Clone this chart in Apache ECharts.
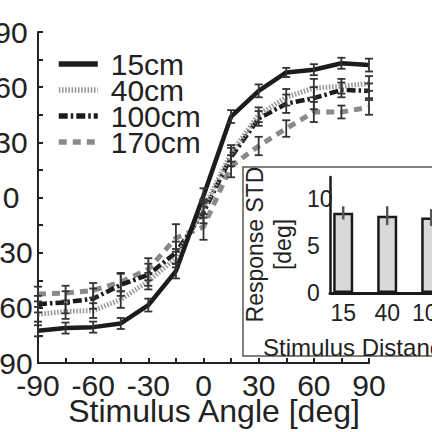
<!DOCTYPE html>
<html>
<head>
<meta charset="utf-8">
<script src="https://cdn.jsdelivr.net/npm/echarts@6/dist/echarts.min.js"></script>
<style>
html,body{margin:0;padding:0;background:#fff;}
#chart{width:432px;height:432px;}
</style>
</head>
<body>
<div id="chart"></div>
<script>
// ---- Main chart data ----
const angles = [-90, -75, -60, -45, -30, -15, 0, 15, 30, 45, 60, 75, 90];
const seriesNames = ['15cm', '40cm', '100cm', '170cm'];
const resp15 = [-72.5, -71, -70.5, -68.5, -58.5, -40, 1, 44, 58, 68, 69.5, 73, 72];
const resp40 = [-63.5, -62, -61.5, -55.5, -45.5, -33, -6, 24, 45, 54.5, 59.5, 60.5, 62];
const resp100 = [-58, -57, -55, -47.5, -42, -30, -8, 22, 43, 51, 54, 58.5, 58];
const resp170 = [-52.5, -52, -50.5, -46, -39, -22, -16, 17, 28, 37.5, 46.5, 46.5, 49];
const err15 = [3, 3, 3, 3, 3.5, 4, 4, 3.5, 3.5, 2.5, 3, 3, 3.5];
const err40 = [4, 4, 4, 4.5, 4.5, 5, 5, 4.5, 4, 4.5, 5, 4, 4];
const err100 = [4.5, 6, 5.5, 6, 6, 6, 6, 5, 4, 5, 6, 4, 4];
const err170 = [4, 4, 4, 5, 6, 7.5, 7, 6, 5, 4.5, 5.5, 3.5, 4];
const xTickLabels = [-90, -60, -30, 0, 30, 60, 90];
const yTickLabels = [90, 60, 30, 0, -30, -60, -90];

// ---- Inset data ----
const distCats = ['15', '40', '100', '170'];
const stdVals = [8.5, 8.2, 8.0, 8.0];
const stdErr = [0.7, 1.0, 0.9, 0.9];
const insetYTicks = [0, 5, 10];

const FONT = "'Liberation Sans', Arial, Helvetica, sans-serif";
const TXT = '#222';

function pairs(ys) { return angles.map((a, i) => [a, ys[i]]); }

function errSeries(ys, es) {
  return {
    type: 'custom', xAxisIndex: 0, yAxisIndex: 0, z: 3, silent: true,
    encode: { x: 0, y: [1, 2] },
    data: angles.map((a, i) => [a, ys[i] - es[i], ys[i] + es[i]]),
    renderItem: function (params, api) {
      const lo = api.coord([api.value(0), api.value(1)]);
      const hi = api.coord([api.value(0), api.value(2)]);
      const w = 4;
      const st = { stroke: '#333', lineWidth: 1.8 };
      return { type: 'group', children: [
        { type: 'line', shape: { x1: lo[0], y1: lo[1], x2: hi[0], y2: hi[1] }, style: st },
        { type: 'line', shape: { x1: lo[0] - w, y1: lo[1], x2: lo[0] + w, y2: lo[1] }, style: st },
        { type: 'line', shape: { x1: hi[0] - w, y1: hi[1], x2: hi[0] + w, y2: hi[1] }, style: st }
      ]};
    }
  };
}

const lineStyles = [
  { color: '#1c1c1c', width: 4.5, type: 'solid' },
  { color: '#9a9a9a', width: 5, type: [1.6, 1.6] },
  { color: '#1c1c1c', width: 4.5, type: [9, 3, 2.5, 3] },
  { color: '#8a8a8a', width: 5, type: [8, 6] }
];
const dataSets = [resp15, resp40, resp100, resp170];
const errSets = [err15, err40, err100, err170];

const series = [];
dataSets.forEach((d, k) => {
  series.push({
    name: seriesNames[k], type: 'line', xAxisIndex: 0, yAxisIndex: 0,
    data: pairs(d), symbol: 'none', z: 2 + (3 - k) * 0.1,
    lineStyle: lineStyles[k], itemStyle: { color: lineStyles[k].color }
  });
});
errSets.forEach((e, k) => series.push(errSeries(dataSets[k], e)));

series.push({
  type: 'bar', xAxisIndex: 1, yAxisIndex: 1, z: 10, barWidth: 20,
  data: stdVals.map((v, i) => [i + 1, v]),
  itemStyle: { color: '#d9d9d9', borderColor: '#1a1a1a', borderWidth: 2.5 }
});
series.push({
  type: 'custom', xAxisIndex: 1, yAxisIndex: 1, z: 11, silent: true,
  encode: { x: 0, y: [1, 2] },
  data: stdVals.map((v, i) => [i + 1, v - stdErr[i], v + stdErr[i]]),
  renderItem: function (params, api) {
    const lo = api.coord([api.value(0), api.value(1)]);
    const hi = api.coord([api.value(0), api.value(2)]);
    return { type: 'line', shape: { x1: lo[0], y1: lo[1], x2: hi[0], y2: hi[1] },
      style: { stroke: '#555', lineWidth: 2.5 } };
  }
});

const legendData = seriesNames.map((n, k) => ({
  name: n,
  itemStyle: { opacity: 0 },
  lineStyle: { color: lineStyles[k].color, width: 5.5, type: lineStyles[k].type, opacity: 1 }
}));

const chart = echarts.init(document.getElementById('chart'), null, { renderer: 'svg' });
chart.setOption({
  animation: false,
  backgroundColor: '#fff',
  textStyle: { fontFamily: FONT },
  legend: {
    data: legendData, orient: 'vertical', left: 56, top: 49, padding: 0,
    itemWidth: 39, itemHeight: 14, itemGap: -4,
    textStyle: { fontFamily: FONT, fontSize: 30, color: TXT, padding: [0, 0, 0, 8] }
  },
  grid: [
    { left: 38, top: 32, width: 331, height: 331, outerBoundsMode: 'none', containLabel: false },
    { left: 330, top: 177, width: 102, height: 116, outerBoundsMode: 'none', containLabel: false }
  ],
  xAxis: [
    {
      gridIndex: 0, type: 'value', min: -90, max: 90, interval: 15,
      axisLine: { onZero: false, lineStyle: { color: '#222', width: 2 } },
      axisTick: { inside: true, length: 5, lineStyle: { color: '#222', width: 2 } },
      axisLabel: { fontFamily: FONT, fontSize: 30, color: TXT, margin: 7,
        customValues: xTickLabels },
      splitLine: { show: false },
      name: 'Stimulus Angle [deg]', nameLocation: 'middle', nameGap: 32, nameMoveOverlap: false,
      nameTextStyle: { fontFamily: FONT, fontSize: 32, color: TXT, padding: [0, 0, 0, 21] }
    },
    {
      gridIndex: 1, type: 'value', min: 0.7, max: 0.7 + 102 / 44, z: 10,
      axisLine: { onZero: false, lineStyle: { color: '#1a1a1a', width: 3 } },
      axisTick: { show: false },
      axisLabel: { fontFamily: FONT, fontSize: 23, color: TXT, margin: 8,
        customValues: [1, 2, 3], formatter: v => distCats[Math.round(v) - 1],
        showMinLabel: true, showMaxLabel: true, hideOverlap: false },
      splitLine: { show: false }
    }
  ],
  yAxis: [
    {
      gridIndex: 0, type: 'value', min: -90, max: 90, interval: 15,
      axisLine: { show: true, onZero: false, lineStyle: { color: '#222', width: 2 } },
      axisTick: { inside: true, length: 5, lineStyle: { color: '#222', width: 2 } },
      axisLabel: { fontFamily: FONT, fontSize: 30, color: TXT, margin: 27, align: 'center',
        customValues: yTickLabels },
      splitLine: { show: false }
    },
    {
      gridIndex: 1, type: 'value', min: 0, max: 12.3, z: 10,
      axisLine: { show: true, onZero: false, lineStyle: { color: '#1a1a1a', width: 2.5 } },
      axisTick: { show: false },
      axisLabel: { fontFamily: FONT, fontSize: 23, color: TXT, margin: 23, align: 'left',
        customValues: insetYTicks },
      splitLine: { show: false }
    }
  ],
  graphic: [
    { type: 'rect', z: 5, shape: { x: 243, y: 167, width: 300, height: 189 },
      style: { fill: '#fff', stroke: '#555', lineWidth: 1.5 } },
    { type: 'text', z: 12, x: 269, y: 244.5, rotation: Math.PI / 2,
      style: { text: 'Response STD\n[deg]', fill: TXT, font: '23px ' + FONT,
        align: 'center', verticalAlign: 'middle', lineHeight: 28 } },
    { type: 'text', z: 12, x: 263, y: 347,
      style: { text: 'Stimulus Distance [cm]', fill: TXT, font: '24px ' + FONT,
        align: 'left', verticalAlign: 'middle' } }
  ],
  series: series
});
</script>
</body>
</html>
